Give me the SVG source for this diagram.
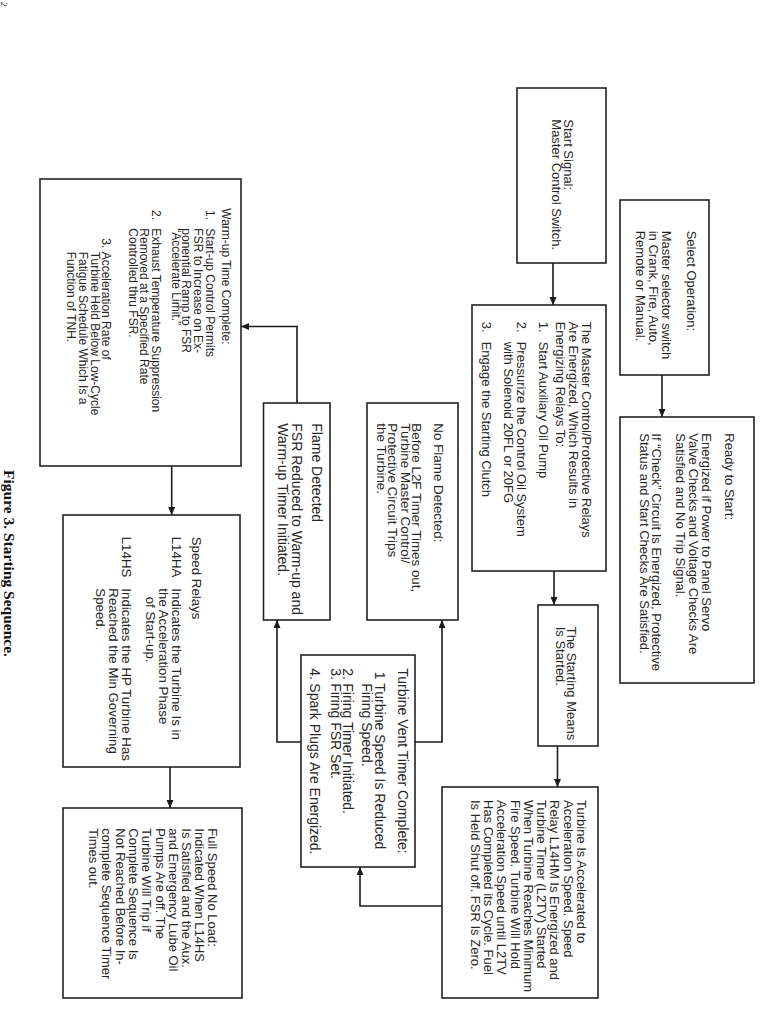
<svg xmlns="http://www.w3.org/2000/svg" width="768" height="1024" viewBox="0 0 768 1024">
<style>
.box{fill:#fff;stroke:#222;stroke-width:1.6}
.t{font-family:"Liberation Sans",Arial,sans-serif;fill:#262626}
.f12{font-size:12px}.f13{font-size:13px}.f135{font-size:13.4px}.f14{font-size:14px}
.conn{fill:none;stroke:#1a1a1a;stroke-width:1.6}
.cap{font-family:"Liberation Serif","Times New Roman",serif;font-weight:bold;font-size:15.5px;fill:#111}
</style>
<defs>
<marker id="ah" markerUnits="userSpaceOnUse" markerWidth="9" markerHeight="8" refX="8" refY="3.5" orient="auto">
<path d="M0,0 L8,3.5 L0,7 z" fill="#1a1a1a"/>
</marker>
</defs>
<rect width="768" height="1024" fill="#fff"/>
<text class="t" transform="translate(1,2) rotate(90)" style="font-size:9px;font-style:italic;font-family:'Liberation Serif',serif">2</text>

<g id="connectors">
<path class="conn" d="M553,263 V305" marker-end="url(#ah)"/>
<path class="conn" d="M662,375 V417" marker-end="url(#ah)"/>
<path class="conn" d="M554,571 V605" marker-end="url(#ah)"/>
<path class="conn" d="M557.5,746 V787" marker-end="url(#ah)"/>
<path class="conn" d="M442,906 H360 V867" marker-end="url(#ah)"/>
<path class="conn" d="M301,742 H277 V620" marker-end="url(#ah)"/>
<path class="conn" d="M415,742 H442 V620" marker-end="url(#ah)"/>
<path class="conn" d="M297,403 V326.5 H241" marker-end="url(#ah)"/>
<path class="conn" d="M171.7,466 V515" marker-end="url(#ah)"/>
<path class="conn" d="M170,767 V808" marker-end="url(#ah)"/>
</g>

<g id="start">
<rect class="box" x="517" y="88" width="89" height="175"/>
<text class="t f13" transform="translate(564,119.3) rotate(90)">
<tspan x="0" y="0">Start Signal:</tspan>
<tspan x="0" y="12">Master Control Switch.</tspan>
</text>
</g>

<g id="select">
<rect class="box" x="620" y="200" width="89" height="175"/>
<text class="t f13" transform="translate(687,230.7) rotate(90)">
<tspan x="0" y="0">Select Operation:</tspan>
<tspan x="0" y="25">Master selector switch</tspan>
<tspan x="0" y="38">in Crank, Fire, Auto,</tspan>
<tspan x="0" y="51.5">Remote or Manual.</tspan>
</text>
</g>

<g id="ready">
<rect class="box" x="620" y="417" width="134" height="266"/>
<text class="t f13" transform="translate(725,433.3) rotate(90)">
<tspan x="0" y="0">Ready to Start:</tspan>
<tspan x="0" y="23">Energized if Power to Panel Servo</tspan>
<tspan x="0" y="36">Valve Checks and Voltage Checks Are</tspan>
<tspan x="0" y="49">Satisfied and No Trip Signal.</tspan>
<tspan x="0" y="73">If “Check” Circuit Is Energized, Protective</tspan>
<tspan x="0" y="85.5">Status and Start Checks Are Satisfied.</tspan>
</text>
</g>

<g id="master">
<rect class="box" x="472" y="305" width="134" height="266"/>
<text class="t f13" transform="translate(582,321.7) rotate(90)">
<tspan x="0" y="0">The Master Control/Protective Relays</tspan>
<tspan x="0" y="13">Are Energized, Which Results in</tspan>
<tspan x="0" y="26.5">Energizing Relays To:</tspan>
<tspan x="0" y="43">1.</tspan><tspan x="20" y="43">Start Auxiliary Oil Pump</tspan>
<tspan x="0" y="65">2.</tspan><tspan x="20" y="65">Pressurize the Control Oil System</tspan>
<tspan x="20" y="78">with Solenoid 20FL or 20FG</tspan>
<tspan x="0" y="100">3.</tspan><tspan x="20" y="100">Engage the Starting Clutch</tspan>
</text>
</g>

<g id="means">
<rect class="box" x="538" y="605" width="60" height="141"/>
<text class="t f13" transform="translate(567,626.7) rotate(90)">
<tspan x="0" y="0">The Starting Means</tspan>
<tspan x="0" y="11.5">Is Started.</tspan>
</text>
</g>

<g id="accel">
<rect class="box" x="442" y="787" width="156" height="211"/>
<text class="t f13" transform="translate(577,800) rotate(90)">
<tspan x="0" y="0">Turbine Is Accelerated to</tspan>
<tspan x="0" y="13.3">Acceleration Speed. Speed</tspan>
<tspan x="0" y="26.6">Relay L14HM Is Energized and</tspan>
<tspan x="0" y="39.9">Turbine Timer (L2TV) Started</tspan>
<tspan x="0" y="53.2">When Turbine Reaches Minimum</tspan>
<tspan x="0" y="66.5">Fire Speed. Turbine Will Hold</tspan>
<tspan x="0" y="79.8">Acceleration Speed until L2TV</tspan>
<tspan x="0" y="93.1">Has Completed its Cycle. Fuel</tspan>
<tspan x="0" y="106.4">Is Held Shut off. FSR Is Zero.</tspan>
</text>
</g>

<g id="noflame">
<rect class="box" x="367" y="403" width="91" height="217"/>
<text class="t f135" transform="translate(434,423.3) rotate(90)">
<tspan x="0" y="0">No Flame Detected:</tspan>
<tspan x="0" y="22">Before L2F Timer Times out,</tspan>
<tspan x="0" y="33.5">Turbine Master Control/</tspan>
<tspan x="0" y="46">Protective Circuit Trips</tspan>
<tspan x="0" y="57">the Turbine.</tspan>
</text>
</g>

<g id="flame">
<rect class="box" x="263.5" y="403" width="66.5" height="217"/>
<text class="t f14" transform="translate(311.7,423.3) rotate(90)">
<tspan x="0" y="0">Flame Detected</tspan>
<tspan x="0" y="20">FSR Reduced to Warm-up and</tspan>
<tspan x="0" y="33.4">Warm-up Timer Initiated.</tspan>
</text>
</g>

<g id="vent">
<rect class="box" x="301" y="655" width="114" height="212"/>
<text class="t f14" transform="translate(398.3,668.3) rotate(90)">
<tspan x="0" y="0">Turbine Vent Timer Complete:</tspan>
<tspan x="3.4" y="23.3">1</tspan><tspan x="15" y="23.3">Turbine Speed Is Reduced</tspan>
<tspan x="15" y="36.6">Firing Speed.</tspan>
<tspan x="0" y="55.3">2.</tspan><tspan x="15" y="55.3">Firing Timer Initiated.</tspan>
<tspan x="0" y="67.8">3.</tspan><tspan x="15" y="67.8">Firing FSR Set.</tspan>
<tspan x="0" y="88.3">4.</tspan><tspan x="15" y="88.3">Spark Plugs Are Energized.</tspan>
</text>
</g>

<g id="warmup">
<rect class="box" x="40" y="179" width="201" height="287"/>
<text class="t f12" transform="translate(222.4,208.3) rotate(90)">
<tspan x="0" y="0">Warm-up Time Complete:</tspan>
<tspan x="1.7" y="16.7">1.</tspan><tspan x="20" y="16.7">Start-up Control Permits</tspan>
<tspan x="20" y="28.4">FSR to Increase on Ex-</tspan>
<tspan x="20" y="40">ponential Ramp to FSR</tspan>
<tspan x="20" y="50">“Accelerate Limit.”</tspan>
<tspan x="1.7" y="70.7">2.</tspan><tspan x="20" y="70.7">Exhaust Temperature Suppression</tspan>
<tspan x="20" y="82.4">Removed at a Specified Rate</tspan>
<tspan x="20" y="93.4">Controlled thru FSR.</tspan>
<tspan x="30" y="120">3.</tspan><tspan x="43.4" y="120">Acceleration Rate of</tspan>
<tspan x="43.4" y="131.7">Turbine Held Below Low-Cycle</tspan>
<tspan x="43.4" y="143.4">Fatigue Schedule Which Is a</tspan>
<tspan x="43.4" y="155">Function of TNH.</tspan>
</text>
</g>

<g id="speed">
<rect class="box" x="63" y="515" width="177" height="252"/>
<text class="t" style="font-size:13.3px" transform="translate(192,536.7) rotate(90)">
<tspan x="0" y="0">Speed Relays</tspan>
<tspan x="0" y="20">L14HA</tspan><tspan x="51.6" y="20">Indicates the Turbine Is in</tspan>
<tspan x="51.6" y="33.5">the Acceleration Phase</tspan>
<tspan x="60" y="46.5">of Start-up.</tspan>
<tspan x="0" y="70">L14HS</tspan><tspan x="51.6" y="70">Indicates the HP Turbine Has</tspan>
<tspan x="51.6" y="83.5">Reached the Min Governing</tspan>
<tspan x="51.6" y="96.5">Speed.</tspan>
</text>
</g>

<g id="fullspeed">
<rect class="box" x="63" y="808" width="179" height="190"/>
<text class="t f13" transform="translate(208,828.3) rotate(90)">
<tspan x="0" y="0">Full Speed No Load:</tspan>
<tspan x="0" y="13">Indicated When L14HS</tspan>
<tspan x="0" y="26.5">Is Satisfied and the Aux.</tspan>
<tspan x="0" y="39">and Emergency Lube Oil</tspan>
<tspan x="0" y="52.5">Pumps Are off. The</tspan>
<tspan x="0" y="66">Turbine Will Trip if</tspan>
<tspan x="0" y="79">Complete Sequence Is</tspan>
<tspan x="0" y="92.5">Not Reached Before In-</tspan>
<tspan x="0" y="106">complete Sequence Timer</tspan>
<tspan x="0" y="119">Times out.</tspan>
</text>
</g>

<text class="cap" transform="translate(4,470) rotate(90)">Figure 3. Starting Sequence.</text>
</svg>
